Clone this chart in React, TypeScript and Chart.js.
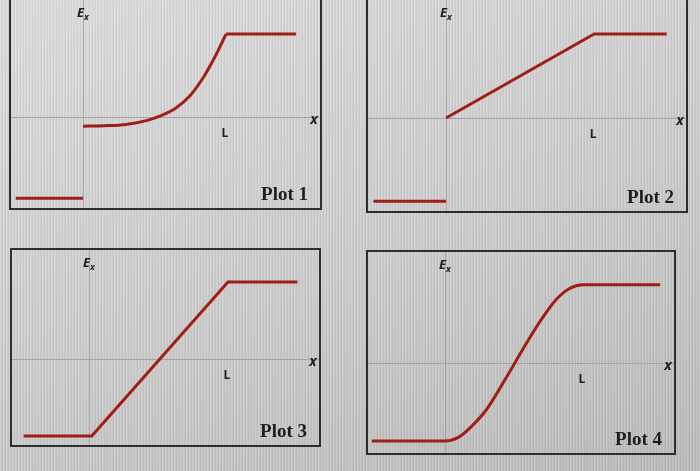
import React, { useEffect, useRef } from 'react';
import Chart from 'chart.js/auto';

// x in units of L, Ex in units of its maximum value
const L_VALUE = 1;

// Plot 1: step below, flat then rising curve, flat above L
const p1StepX = [-0.47, 0];
const p1StepY = [-0.98, -0.98];
const p1CurveX = [0, 0.15, 0.3, 0.45, 0.55, 0.65, 0.75, 0.85, 0.93, 1];
const p1CurveY = [-0.11, -0.105, -0.09, -0.04, 0.02, 0.11, 0.26, 0.5, 0.75, 1];
const p1FlatX = [1, 1.49];
const p1FlatY = [1, 1];

// Plot 2: step below, straight ramp from origin, flat above L
const p2StepX = [-0.49, 0];
const p2StepY = [-0.99, -0.99];
const p2RampX = [0, 1, 1.49];
const p2RampY = [0, 1, 1];

// Plot 3: flat, straight ramp through zero, flat
const p3X = [-0.47, 0.02, 1, 1.5];
const p3Y = [-1, -1, 1, 1];

// Plot 4: smooth S-curve
const p4X = [-0.53, 0, 0.1, 0.2, 0.3, 0.4, 0.5, 0.6, 0.7, 0.8, 0.9, 1, 1.56];
const p4Y = [-1, -1, -0.95, -0.8, -0.6, -0.32, -0.02, 0.28, 0.56, 0.8, 0.95, 1, 1];

const LINE_COLOR = '#a01e16';

const toPoints = (xs: number[], ys: number[]) => xs.map((x, i) => ({ x, y: ys[i] }));

interface Series {
  xs: number[];
  ys: number[];
  smooth?: boolean;
}

interface PanelProps {
  title: string;
  series: Series[];
  xRange: [number, number];
  yRange: [number, number];
  left: number;
  top: number;
  width: number;
  height: number;
}

const decorPlugin = {
  id: 'decor',
  beforeDatasetsDraw(chart: any) {
    const { ctx, chartArea: a, scales } = chart;
    const x0 = scales.x.getPixelForValue(0);
    const y0 = scales.y.getPixelForValue(0);
    ctx.save();
    ctx.strokeStyle = '#a4a4a4';
    ctx.lineWidth = 1;
    ctx.beginPath();
    ctx.moveTo(a.left, Math.round(y0) + 0.5);
    ctx.lineTo(a.right, Math.round(y0) + 0.5);
    ctx.moveTo(Math.round(x0) + 0.5, a.top);
    ctx.lineTo(Math.round(x0) + 0.5, a.bottom);
    ctx.stroke();
    ctx.restore();
  },
  afterDatasetsDraw(chart: any, _args: any, opts: any) {
    const { ctx, chartArea: a, scales } = chart;
    const x0 = scales.x.getPixelForValue(0);
    const y0 = scales.y.getPixelForValue(0);
    const xL = scales.x.getPixelForValue(L_VALUE);
    ctx.save();
    ctx.fillStyle = '#1e1e1e';
    ctx.textBaseline = 'alphabetic';

    // E_x label at the top of the vertical axis
    ctx.font = 'italic bold 13px "Open Sans"';
    ctx.textAlign = 'right';
    ctx.fillText('E', x0 + 1, a.top + 17);
    ctx.font = 'italic bold 9px "Open Sans"';
    ctx.textAlign = 'left';
    ctx.fillText('x', x0 + 1, a.top + 20);

    // x label at the right end of the horizontal axis
    ctx.font = 'italic bold 14px "Open Sans"';
    ctx.textAlign = 'center';
    ctx.fillText('x', a.right - 6, y0 + 7);

    // L tick label
    ctx.font = 'bold 12px "Open Sans"';
    ctx.fillText('L', xL - 1, y0 + 20);

    // panel title
    ctx.font = 'bold 19px "Liberation Serif"';
    ctx.textAlign = 'right';
    ctx.fillText(opts.title, a.right - 12, a.bottom - 8);
    ctx.restore();
  },
};

const Panel: React.FC<PanelProps> = ({ title, series, xRange, yRange, left, top, width, height }) => {
  const chartRef = useRef<HTMLCanvasElement>(null);
  const chartInstance = useRef<Chart | null>(null);

  useEffect(() => {
    if (!chartRef.current) return;
    if (chartInstance.current) {
      chartInstance.current.destroy();
    }
    const ctx = chartRef.current.getContext('2d');
    if (ctx) {
      chartInstance.current = new Chart(ctx, {
        type: 'line',
        data: {
          datasets: series.map(s => ({
            data: toPoints(s.xs, s.ys),
            borderColor: LINE_COLOR,
            borderWidth: 3,
            pointRadius: 0,
            fill: false,
            cubicInterpolationMode: s.smooth ? 'monotone' : 'default',
            tension: 0,
            borderCapStyle: 'butt',
            borderJoinStyle: 'miter',
          })),
        },
        options: {
          responsive: true,
          maintainAspectRatio: false,
          animation: false,
          layout: { padding: 0 },
          plugins: {
            legend: { display: false },
            tooltip: { enabled: false },
            decor: { title },
          } as any,
          scales: {
            x: { type: 'linear', display: false, min: xRange[0], max: xRange[1] },
            y: { type: 'linear', display: false, min: yRange[0], max: yRange[1] },
          },
        },
        plugins: [decorPlugin],
      });
    }
    return () => {
      if (chartInstance.current) {
        chartInstance.current.destroy();
        chartInstance.current = null;
      }
    };
  }, [title, series, xRange, yRange]);

  return (
    <div
      style={{
        position: 'absolute',
        left,
        top,
        width,
        height,
        boxSizing: 'border-box',
        border: '2px solid #2e2e2e',
      }}
    >
      <canvas ref={chartRef}></canvas>
    </div>
  );
};

const panels: PanelProps[] = [
  {
    title: 'Plot 1',
    series: [
      { xs: p1StepX, ys: p1StepY },
      { xs: p1CurveX, ys: p1CurveY, smooth: true },
      { xs: p1FlatX, ys: p1FlatY },
    ],
    xRange: [-0.503, 1.657],
    yRange: [-1.096, 1.41],
    left: 9,
    top: -2,
    width: 313,
    height: 212,
  },
  {
    title: 'Plot 2',
    series: [
      { xs: p2StepX, ys: p2StepY },
      { xs: p2RampX, ys: p2RampY },
    ],
    xRange: [-0.527, 1.62],
    yRange: [-1.107, 1.405],
    left: 366,
    top: -2,
    width: 322,
    height: 215,
  },
  {
    title: 'Plot 3',
    series: [{ xs: p3X, ys: p3Y }],
    xRange: [-0.554, 1.655],
    yRange: [-1.117, 1.416],
    left: 10,
    top: 248,
    width: 311,
    height: 199,
  },
  {
    title: 'Plot 4',
    series: [{ xs: p4X, ys: p4Y, smooth: true }],
    xRange: [-0.558, 1.66],
    yRange: [-1.154, 1.42],
    left: 366,
    top: 250,
    width: 310,
    height: 205,
  },
];

export default function App() {
  return (
    <div
      style={{
        position: 'fixed',
        left: 0,
        top: 0,
        width: 700,
        height: 471,
        overflow: 'hidden',
        background:
          'repeating-linear-gradient(90deg, rgba(255,255,255,0.10) 0px, rgba(255,255,255,0.10) 1px, rgba(0,0,0,0.05) 2px, rgba(0,0,0,0.05) 3px), linear-gradient(160deg, #dedede 0%, #cdcdcd 55%, #bcbcbc 100%)',
      }}
    >
      {panels.map(p => (
        <Panel key={p.title} {...p} />
      ))}
    </div>
  );
}
